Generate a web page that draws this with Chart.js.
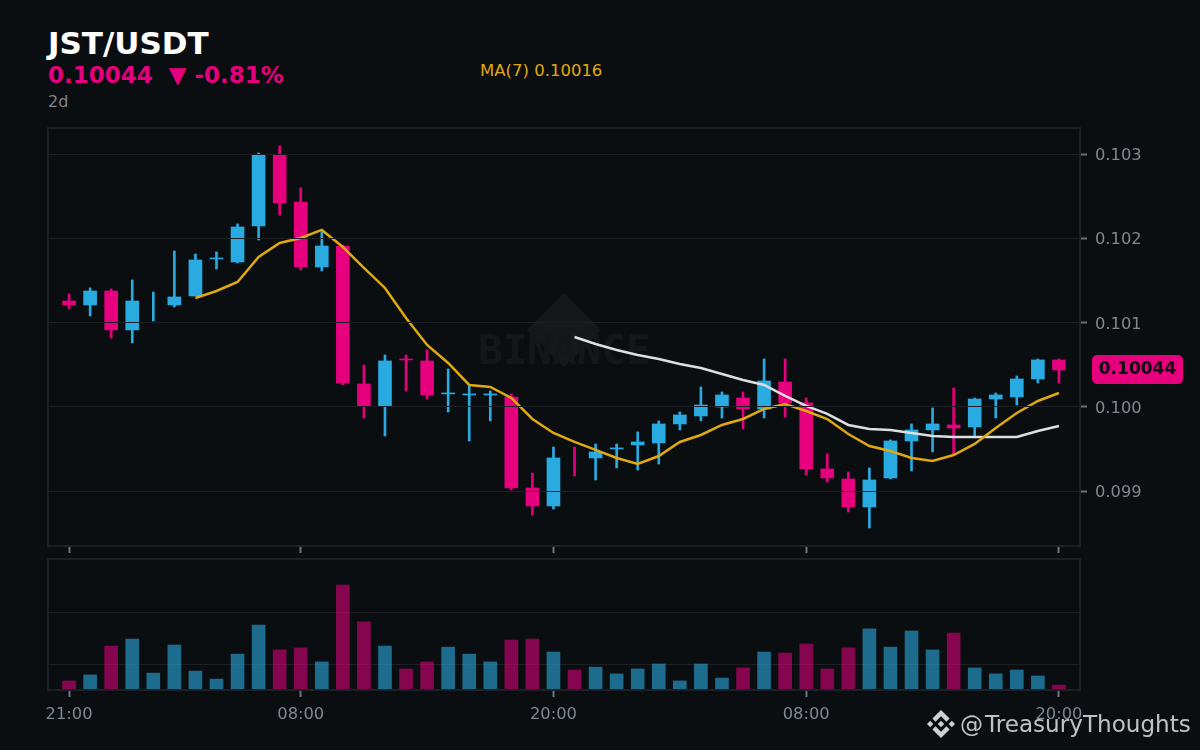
<!DOCTYPE html>
<html>
<head>
<meta charset="utf-8">
<style>
html,body{margin:0;padding:0;background:#0a0e11;width:1200px;height:750px;overflow:hidden;font-family:'DejaVu Sans',sans-serif}
.t{position:absolute;white-space:pre;line-height:1}
canvas{position:absolute;left:0}
</style>
<script src="https://cdn.jsdelivr.net/npm/chart.js@4/dist/chart.umd.min.js"></script>
</head>
<body>
<svg style="position:absolute;left:527px;top:293px;z-index:0" width="74" height="74" viewBox="0 0 74 74"><polygon points="37,0 74,37 37,74 0,37" fill="#15191c"/></svg>
<div class="t" style="left:478px;top:326px;font:bold 41px 'DejaVu Sans Mono',monospace;color:#13171a;z-index:0">BINANCE</div>
<div class="t" style="left:48px;top:28px;font-size:31px;font-weight:bold;color:#fff">JST/USDT</div>
<div class="t" style="left:48px;top:64px;font-size:23px;font-weight:bold;color:#e6007e">0.10044  ▼ -0.81%</div>
<div class="t" style="left:48px;top:94px;font-size:16px;color:#7f868e">2d</div>
<div class="t" style="left:480px;top:63px;font-size:16.5px;color:#e0a90f">MA(7) 0.10016</div>
<canvas id="price" width="1200" height="555" style="top:0;z-index:1"></canvas>
<canvas id="volume" width="1200" height="195" style="top:555px;z-index:1"></canvas>
<svg style="position:absolute;left:927px;top:710px;z-index:2" width="28" height="28" viewBox="0 0 126.61 126.61" fill="#cfcfcf"><path d="M38.73 53.2 63.31 28.62 87.9 53.22l14.3-14.3L63.31 0 24.43 38.9z"/><path d="M0 63.31 14.3 49l14.3 14.31-14.3 14.3z"/><path d="M38.73 73.41 63.31 98l24.59-24.6 14.31 14.29-38.9 38.91L24.42 87.73z"/><path d="M98 63.31 112.3 49l14.31 14.3-14.31 14.32z"/><path d="M77.83 63.3 63.31 48.78 48.8 63.28l14.51 14.53z"/></svg>
<div class="t" style="left:960px;top:713px;font-size:23.1px;word-spacing:-5.4px;color:rgba(225,225,225,.85);z-index:2">@ TreasuryThoughts</div>
<script>
const times = ['21:00','22:00','23:00','00:00','01:00','02:00','03:00','04:00','05:00','06:00','07:00','08:00','09:00','10:00','11:00','12:00','13:00','14:00','15:00','16:00','17:00','18:00','19:00','20:00','21:00','22:00','23:00','00:00','01:00','02:00','03:00','04:00','05:00','06:00','07:00','08:00','09:00','10:00','11:00','12:00','13:00','14:00','15:00','16:00','17:00','18:00','19:00','20:00'];
const tickIndexes = [0,11,23,35,47];
const priceTicks = [0.099,0.100,0.101,0.102,0.103];
const volumeTicks = [100,300];
const downCandles = [0,2,10,11,13,14,16,17,21,22,24,32,34,35,36,37,42,47];
const opens = [.10126,.101213,.101379,.100916,null,.101213,.10132,.10176,.101724,.102152,.102996,.102437,.101665,.101914,.100273,.100012,.100559,.100547,.100155,.100143,.100143,.100119,.099037,.098823,null,.099394,.099501,.099548,.099572,.099798,.099893,.1,.100107,.099976,.100297,.100048,.099263,.099144,.098811,.099156,.099596,.099727,.099786,.099762,.100095,.100119,.100333,.100559];
const highs = [.101344,.101415,.101403,.10151,.101367,.101855,.101819,.101843,.102176,.10302,.103103,.102604,.102081,.101926,.100499,.100618,.100618,.100678,.100452,.100262,.10019,.100155,.099215,.099524,.099524,.09956,.09956,.099703,.099834,.099941,.100238,.100178,.100178,.100571,.100571,.100107,.099441,.099227,.099275,.099608,.099798,.099988,.100226,.100107,.100166,.100369,.100571,.100571];
const lows = [.101165,.101082,.10082,.100761,.101023,.101189,.10132,.101641,.101712,.101986,.102283,.101629,.101617,.100262,.099869,.099655,.10019,.100095,.099941,.099596,.099834,.099013,.098716,.098787,.09918,.099132,.099275,.099251,.099322,.099727,.099834,.099869,.099738,.099869,.099881,.099191,.099108,.098752,.098561,.099144,.099239,.099465,.099441,.099643,.099869,.100024,.100285,.100285];
const closes = [.101213,.101379,.100916,.10126,null,.101308,.101748,.10176,.10214,.102996,.102426,.101665,.101914,.100285,.100012,.100547,.100559,.100143,.100155,.100143,.100143,.099037,.098823,.099394,null,.099465,.099501,.099584,.099798,.099905,.100024,.100143,.099976,.100309,.100048,.099263,.099156,.098811,.099132,.099596,.099727,.099798,.09975,.100095,.100143,.100333,.100559,.10044];
const volumes = [35,58,169,196,65,173,73,42,138,250,154,162,108,404,262,169,81,108,165,138,108,192,196,146,77,88,62,81,100,35,100,46,85,146,142,177,81,162,235,165,227,154,219,85,62,77,54,19];
const ma7 = [null,null,null,null,null,null,.101296,.101379,.101486,.101784,.10195,.102009,.102105,.101902,.101653,.101415,.101058,.100737,.100523,.100262,.100238,.100107,.099857,.099691,.099584,.099489,.099394,.099322,.099417,.099584,.099667,.099786,.099857,.099976,.100036,.099952,.099857,.099679,.099536,.099477,.099394,.099358,.099429,.09956,.09975,.099929,.100071,.100166];
const ma25 = [null,null,null,null,null,null,null,null,null,null,null,null,null,null,null,null,null,null,null,null,null,null,null,null,.100832,.100749,.100678,.100618,.100571,.100511,.100464,.100392,.100321,.100262,.100131,.100012,.099917,.099786,.099738,.099727,.099691,.099655,.099643,.099643,.099643,.099643,.099715,.099774];
const lastPrice = 0.10044;
const lastPriceLabel = '0.10044';

const BLUE='#29abe2', PINK='#e6007e', GRID='#1c2024', TICK='#6d737a', LABEL='#80878f';
const isDown = i => downCandles.includes(i);
const pts = arr => arr.map((v,i)=>({x:i,y:v}));
const spans = (a,b) => a.map((v,i)=>({x:i,y:(v===null||b[i]===null)?null:[v,b[i]]}));
const candleColors = times.map((_,i)=>isDown(i)?PINK:BLUE);
const volumeColors = times.map((_,i)=>isDown(i)?'rgba(230,0,126,.56)':'rgba(41,171,226,.6)');

const panel = {id:'panel',afterDraw(c){const a=c.chartArea,x=c.ctx;x.save();x.strokeStyle=GRID;x.lineWidth=2;x.strokeRect(a.left,a.top,a.right-a.left,a.bottom-a.top);x.restore();}};
const badge = {id:'badge',afterDraw(c){const x=c.ctx,y=c.scales.y.getPixelForValue(lastPrice);x.save();x.fillStyle=PINK;x.beginPath();x.roundRect(1092,y-15,91,29,5);x.fill();x.fillStyle='#0a0e11';x.font="bold 17px 'DejaVu Sans'";x.textAlign='center';x.textBaseline='middle';x.fillText(lastPriceLabel,1137.5,y);x.restore();}};

const xAxis = (h,show) => ({type:'linear',min:-1,max:48,offset:false,
  afterBuildTicks(s){s.ticks=tickIndexes.map(v=>({value:v}));},
  afterFit(s){s.height=h;},
  border:{display:false},
  grid:{display:true,offset:false,drawOnChartArea:false,drawTicks:true,tickLength:7,tickColor:TICK,tickWidth:2},
  ticks:{autoSkip:false,maxRotation:0,padding:8,color:LABEL,font:{family:"'DejaVu Sans'",size:16.3},callback:v=>show?times[v]:''}
});
const common = {responsive:false,animation:false,devicePixelRatio:1,plugins:{legend:{display:false},tooltip:{enabled:false}}};
const fitY = s => {s.width=120;s.paddingTop=0;s.paddingBottom=0;};

new Chart(document.getElementById('price'),{
  type:'bar',
  plugins:[panel,badge],
  data:{datasets:[
    {type:'line',data:pts(ma25),borderColor:'#dedede',borderWidth:2.5,pointRadius:0,tension:0,spanGaps:false,order:1},
    {type:'line',data:pts(ma7),borderColor:'#e0a90f',borderWidth:2.5,pointRadius:0,tension:0,spanGaps:false,order:0},
    {data:spans(lows,highs),backgroundColor:candleColors,barThickness:2,grouped:false,order:3},
    {data:spans(opens,closes),backgroundColor:candleColors,barThickness:13,minBarLength:1,grouped:false,order:2}
  ]},
  options:{...common,
    layout:{padding:{top:128,left:48,right:0,bottom:0}},
    scales:{
      x:xAxis(9,false),
      y:{position:'right',min:.098347,max:.103317,
        afterBuildTicks(s){s.ticks=priceTicks.map(v=>({value:v}));},
        afterFit:fitY,
        border:{display:false},
        grid:{color:GRID,lineWidth:1,z:1,tickColor:TICK,tickLength:7,tickWidth:2},
        ticks:{padding:8,color:LABEL,font:{family:"'DejaVu Sans'",size:16.3,lineHeight:'3px'},callback:v=>['',v.toFixed(3)]}
      }
    }
  }
});

new Chart(document.getElementById('volume'),{
  type:'bar',
  plugins:[panel],
  data:{datasets:[{data:pts(volumes),backgroundColor:volumeColors,barThickness:13}]},
  options:{...common,
    layout:{padding:{top:4,left:48,right:0,bottom:0}},
    scales:{
      x:xAxis(60,true),
      y:{position:'right',min:0,max:504,
        afterBuildTicks(s){s.ticks=volumeTicks.map(v=>({value:v}));},
        afterFit:fitY,
        border:{display:false},
        grid:{color:GRID,lineWidth:1,drawTicks:false},
        ticks:{display:false}
      }
    }
  }
});
</script>
</body>
</html>
